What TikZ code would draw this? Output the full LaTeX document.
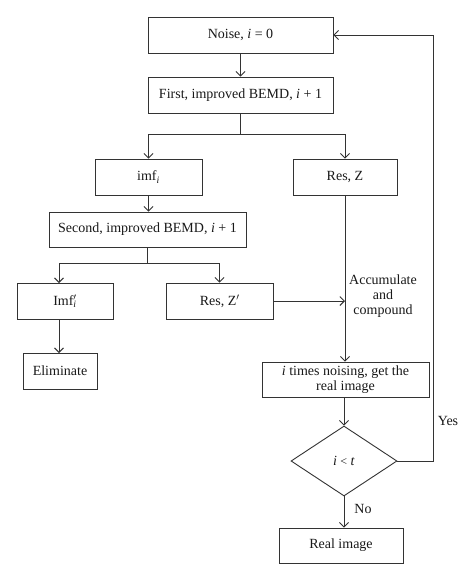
\documentclass[tikz,border=0pt]{standalone}
\usepackage{fontspec}
\setmainfont{Liberation Serif}
\usetikzlibrary{arrows.meta,shapes.geometric}
\begin{document}
\begin{tikzpicture}[x=1pt,y=-1pt,
  line width=0.9pt,
  every node/.style={text=black!90},
  box/.style={draw=black!80, rectangle, inner sep=0pt, align=center,
    font=\fontsize{14}{15}\selectfont},
  dia/.style={draw=black!80, diamond, inner sep=0pt, aspect=1.514,
    minimum width=106pt, minimum height=70pt, font=\fontsize{14}{15}\selectfont},
  lbl/.style={inner sep=0pt, align=center, font=\fontsize{14}{15}\selectfont},
  conn/.style={draw=black!80},
  arr/.style={draw=black!80, -{Straight Barb[length=4.5pt,width=9pt]}}]
\useasboundingbox (0,0) rectangle (474,581);
\fill[white] (0,0) rectangle (474,581);

\node[box, minimum width=185pt, minimum height=36pt] (noise) at (240.5,35) {Noise, \textit{i} = 0};
\node[box, minimum width=185pt, minimum height=36pt] (first) at (240.5,95) {First, improved BEMD, \textit{i} + 1};
\node[box, minimum width=107pt, minimum height=36pt] (imf) at (148.5,177) {imf\textsubscript{\textit{i}}};
\node[box, minimum width=104pt, minimum height=36pt] (resz) at (345,177) {Res, Z};
\node[box, minimum width=197pt, minimum height=35pt] (second) at (147.5,229.5) {Second, improved BEMD, \textit{i} + 1};
\node[box, minimum width=96pt, minimum height=36pt] (imfp) at (65,301) {Imf\rlap{\raisebox{0.75ex}{\fontsize{10}{10}\selectfont$\prime$}}\textsubscript{\textit{i}}};
\node[box, minimum width=107pt, minimum height=36pt] (reszp) at (219.5,301) {Res, Z\raisebox{0.75ex}{\fontsize{10}{10}\selectfont$\prime$}};
\node[box, minimum width=74pt, minimum height=36pt] (elim) at (60,371) {Eliminate};
\node[box, minimum width=167pt, minimum height=35pt] (itimes) at (345.5,379.5) {\textit{i} times noising, get the\\real image};
\node[dia] (cond) at (344,461) {\textit{i} {\fontsize{12}{12}\selectfont<} \textit{t}};
\node[box, minimum width=124pt, minimum height=35pt] (real) at (341,545.5) {Real image};

\node[lbl] (acc) at (383,296) {Accumulate\\and\\compound};
\node[lbl] (yes) at (448,421) {Yes};
\node[lbl] (no) at (363,509) {No};

% connectors
\draw[arr] (noise.south) -- (first.north);
\coordinate (b1) at (240.5,134);
\draw[conn] (first.south) -- (b1);
\draw[arr] (b1) -| (imf.north);
\draw[arr] (b1) -| (resz.north);
\draw[arr] (imf.south) -- (imf.south |- second.north);
\coordinate (b2) at (147.5,263);
\draw[conn] (second.south) -- (b2);
\coordinate (imfpt) at (59,283);
\draw[arr] (b2) -| (imfpt);
\draw[arr] (b2) -| (reszp.north);
\draw[arr] (resz.south) -- (resz.south |- itimes.north);
\coordinate (accpt) at (345,301);
\draw[arr] (reszp.east) -- (accpt);
\coordinate (imfpb) at (59,319);
\coordinate (elimt) at (59,353);
\draw[arr] (imfpb) -- (elimt);
\draw[arr] (itimes.south -| cond.north) -- (cond.north);
\coordinate (yr) at (433,461);
\coordinate (yt) at (433,35);
\draw[arr] (cond.east) -- (yr) -- (yt) -- (noise.east);
\draw[arr] (cond.south) -- (cond.south |- real.north);
\end{tikzpicture}
\end{document}
